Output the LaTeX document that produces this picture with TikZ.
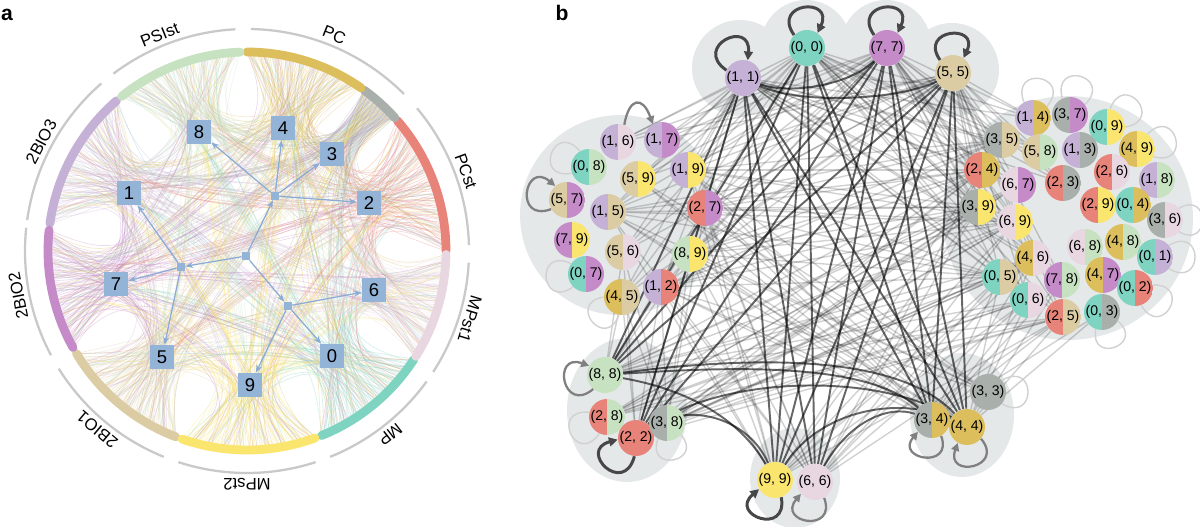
\documentclass[tikz,border=0pt]{standalone}
\usepackage{fontspec}
\setmainfont{Liberation Sans}
\usetikzlibrary{arrows.meta,calc}
\pgfdeclarelayer{bg}
\pgfdeclarelayer{mid}
\pgfsetlayers{bg,mid,main}
\definecolor{c0}{HTML}{7FD3C1}
\definecolor{c1}{HTML}{C6B1D6}
\definecolor{c2}{HTML}{E8837A}
\definecolor{c3}{HTML}{A9AFAB}
\definecolor{c4}{HTML}{DDBE5C}
\definecolor{c5}{HTML}{DCCCA4}
\definecolor{c6}{HTML}{E8D6E0}
\definecolor{c7}{HTML}{C58BC9}
\definecolor{c8}{HTML}{C7E2C1}
\definecolor{c9}{HTML}{FAE66E}
\definecolor{sqblue}{HTML}{93B3D7}
\definecolor{treeblue}{HTML}{8AACD4}
\definecolor{blobgray}{HTML}{E5E8E9}
\definecolor{ringgray}{HTML}{C9C9C9}
\tikzset{
 sq/.style={fill=sqblue, minimum size=0.48cm, inner sep=0pt, font=\fontsize{10.5}{12}\selectfont},
 tn/.style={fill=sqblue, minimum size=0.16cm, inner sep=0pt},
 tree/.style={draw=treeblue, line width=0.7pt, -{Stealth[length=4.5pt,width=3.5pt]}},
 ring/.style={draw=ringgray, line width=1.3pt},
 band/.style={line width=5pt, line cap=round},
 lab/.style={anchor=south, inner sep=1pt, font=\fontsize{9.5}{11}\selectfont},
 bun/.style={line width=0.4pt, draw opacity=0.3},
 hc/.style 2 args={circle, minimum size=0.72cm, inner sep=0pt, font=\fontsize{8}{9}\selectfont,
   path picture={\fill[#1] (path picture bounding box.south west) rectangle (path picture bounding box.north);
                 \fill[#2] (path picture bounding box.south) rectangle (path picture bounding box.north east);}},
 fc/.style={circle, fill=#1, minimum size=0.72cm, inner sep=0pt, font=\fontsize{8}{9}\selectfont},
 blob/.style={fill=blobgray},
 dk/.style={draw=black, draw opacity=0.6, line width=1.1pt},
 lt/.style={draw=black, draw opacity=0.18, line width=0.8pt},
 lpd/.style={draw=black!72, line width=1.7pt, -{Triangle[length=5pt,width=5pt]}},
 lpm/.style={draw=black!50, line width=1.3pt, -{Triangle[length=4.5pt,width=4.5pt]}},
 lpf/.style={draw=black!18, line width=0.8pt},
}
\newcommand\mkloop[4]{%
 \pgfmathtruncatemacro\lpa{#3+40}\pgfmathtruncatemacro\lpb{#3-40}%
 \draw[#1] (#2.\lpa) .. controls +({-(#3+30)}:#4) and +({-(#3-30)}:#4) .. (#2.\lpb);}
\begin{document}
\begin{tikzpicture}[x=0.02cm, y=-0.02cm]
\useasboundingbox (0,0) rectangle (1200,527);
% ---------------- panel a ----------------
\node[font=\bfseries\fontsize{12}{14}\selectfont] (la) at (7,15) {a};
\node[font=\bfseries\fontsize{12}{14}\selectfont] (lb) at (562,13) {b};
\node[sq] (sq0) at (332,356) {0};
\node[sq] (sq1) at (129,193) {1};
\node[sq] (sq2) at (369,203) {2};
\node[sq] (sq3) at (332,154) {3};
\node[sq] (sq4) at (283,128) {4};
\node[sq] (sq5) at (162,357) {5};
\node[sq] (sq6) at (374,290) {6};
\node[sq] (sq7) at (116,284) {7};
\node[sq] (sq8) at (199,132) {8};
\node[sq] (sq9) at (250,385) {9};
\node[tn] (tA) at (275,196) {};
\node[tn] (tB) at (246,256) {};
\node[tn] (tC) at (181,267) {};
\node[tn] (tD) at (288,306) {};
\draw[tree] (tB) -- (tA);
\draw[tree] (tB) -- (tC);
\draw[tree] (tB) -- (tD);
\draw[tree] (tA) -- (sq8);
\draw[tree] (tA) -- (sq4);
\draw[tree] (tA) -- (sq3);
\draw[tree] (tA) -- (sq2);
\draw[tree] (tC) -- (sq1);
\draw[tree] (tC) -- (sq7);
\draw[tree] (tC) -- (sq5);
\draw[tree] (tD) -- (sq6);
\draw[tree] (tD) -- (sq0);
\draw[tree] (tD) -- (sq9);
\begin{scope}[shift={(247,251)}]
 \foreach \a/\b in {93/127, 45/89, 1.5/40, -3/-33, -36/-68, -72/-108, -112/-148, -152/-186, 131/172}
   \draw[ring] (-\a:222) arc[start angle=-\a, end angle=-\b, radius=222];
 \node[lab, rotate=22] (lPSI) at (-112:225) {PSIst};
 \node[lab, rotate=-22] (lPC) at (-68:225) {PC};
 \node[lab, rotate=-70] (lPCst) at (-20:225) {PCst};
 \node[lab, rotate=-107] (lMPst1) at (17:225) {MPst1};
 \node[lab, rotate=-142] (lMP) at (52:225) {MP};
 \node[lab, rotate=-180] (lMPst2) at (90:225) {MPst2};
 \node[lab, rotate=140] (l2BIO1) at (-230:225) {2BIO1};
 \node[lab, rotate=101] (l2BIO2) at (-191:225) {2BIO2};
 \node[lab, rotate=62] (l2BIO3) at (-152:225) {2BIO3};
 \foreach \i/\s/\e in {0/292/327, 1/131/172, 2/0/41, 3/42/54, 4/55/90, 5/211/249, 6/328/359, 7/174/209, 8/92/129, 9/251/290}
   \draw[band, c\i] (-\s:199) arc[start angle=-\s, end angle=-\e, radius=199];
\end{scope}
\begin{pgfonlayer}{mid}
\begin{scope}[shift={(247,251)}]
\foreach \i in {0,...,9}{
 \pgfmathsetmacro\sa{{292,131,0,42,55,211,328,174,92,251}[\i]}
 \pgfmathsetmacro\ea{{327,172,41,54,90,249,359,209,129,290}[\i]}
 \pgfmathsetmacro\ma{(\sa+\ea)/2}
 \foreach \k in {0,...,69}{
   \pgfmathsetmacro\aa{\sa+(\ea-\sa)*(\k+0.5)/70}
   \pgfmathtruncatemacro\j{mod(\i+1+mod(\k*7,9),10)}
   \pgfmathsetmacro\sb{{292,131,0,42,55,211,328,174,92,251}[\j]}
   \pgfmathsetmacro\eb{{327,172,41,54,90,249,359,209,129,290}[\j]}
   \pgfmathsetmacro\mb{(\sb+\eb)/2+(mod(\k*5,7)-3)*1.8}
   \pgfmathsetmacro\mai{\ma+(mod(\k*11,9)-4)*1.4}
   \pgfmathsetmacro\ra{132+mod(\k*13,28)-14}
   \pgfmathsetmacro\rb{132+mod(\k*17,28)-14}
   \pgfmathsetmacro\bb{\sb+(\eb-\sb)*mod(\k*0.618+0.13*\i,1)}
   \draw[bun, c\i] (-\aa:196) .. controls ($(-\aa:196)!0.5!(-\mai:\ra)$) and (-\mai:\ra) .. ($(-\mai:\ra)!0.5!(-\mb:\rb)$)
        .. controls (-\mb:\rb) and ($(-\bb:196)!0.5!(-\mb:\rb)$) .. (-\bb:196);
 }
}
\end{scope}
\end{pgfonlayer}
% ---------------- panel b ----------------
\begin{pgfonlayer}{bg}
 \fill[blob] (740,68) circle[radius=0.96cm];
 \fill[blob] (806,45) circle[radius=0.9cm];
 \fill[blob] (886,45) circle[radius=0.9cm];
 \fill[blob] (952,70) circle[radius=0.94cm];
 \fill[blob] (620,215) circle[radius=2cm];
 \fill[blob] (1068,218) ellipse[x radius=2.5cm, y radius=2.44cm];
 \fill[blob] (627,410) ellipse[x radius=1.2cm, y radius=1.44cm];
 \fill[blob] (795,478) ellipse[x radius=0.9cm, y radius=1.0cm];
 \fill[blob] (962,415) ellipse[x radius=1.04cm, y radius=1.24cm];
\end{pgfonlayer}
\node[fc=c1] (n11) at (743,78) {(1, 1)};
\node[fc=c0] (n00) at (807,48) {(0, 0)};
\node[fc=c7] (n77) at (887,48) {(7, 7)};
\node[fc=c5] (n55) at (953,73) {(5, 5)};
\node[hc={c1}{c6}] (n16) at (618,142) {(1, 6)};
\node[hc={c1}{c7}] (n17) at (662,140) {(1, 7)};
\node[hc={c0}{c8}] (n08) at (589,167) {(0, 8)};
\node[hc={c5}{c9}] (n59) at (638,179) {(5, 9)};
\node[hc={c1}{c9}] (n19) at (688,170) {(1, 9)};
\node[hc={c5}{c7}] (n57) at (567,200) {(5, 7)};
\node[hc={c1}{c5}] (n15) at (608,212) {(1, 5)};
\node[hc={c2}{c7}] (n27) at (705,208) {(2, 7)};
\node[hc={c7}{c9}] (n79) at (572,240) {(7, 9)};
\node[hc={c5}{c6}] (n56) at (623,252) {(5, 6)};
\node[hc={c8}{c9}] (n89) at (690,254) {(8, 9)};
\node[hc={c0}{c7}] (n07) at (586,274) {(0, 7)};
\node[hc={c4}{c5}] (n45) at (622,297) {(4, 5)};
\node[hc={c1}{c2}] (n12) at (661,287) {(1, 2)};
\node[hc={c1}{c4}] (n14) at (1033,118) {(1, 4)};
\node[hc={c3}{c7}] (n37) at (1070,115) {(3, 7)};
\node[hc={c0}{c9}] (n09) at (1107,127) {(0, 9)};
\node[hc={c3}{c5}] (n35) at (1002,140) {(3, 5)};
\node[hc={c5}{c8}] (n58) at (1040,152) {(5, 8)};
\node[hc={c1}{c3}] (n13) at (1080,150) {(1, 3)};
\node[hc={c4}{c9}] (n49) at (1137,149) {(4, 9)};
\node[hc={c2}{c4}] (n24) at (982,170) {(2, 4)};
\node[hc={c6}{c7}] (n67) at (1018,185) {(6, 7)};
\node[hc={c2}{c3}] (n23) at (1063,183) {(2, 3)};
\node[hc={c2}{c6}] (n26) at (1112,172) {(2, 6)};
\node[hc={c1}{c8}] (n18) at (1157,180) {(1, 8)};
\node[hc={c3}{c9}] (n39) at (978,207) {(3, 9)};
\node[hc={c6}{c9}] (n69) at (1015,222) {(6, 9)};
\node[hc={c2}{c9}] (n29) at (1098,205) {(2, 9)};
\node[hc={c0}{c4}] (n04) at (1133,205) {(0, 4)};
\node[hc={c3}{c6}] (n36) at (1165,220) {(3, 6)};
\node[hc={c4}{c6}] (n46) at (1033,258) {(4, 6)};
\node[hc={c6}{c8}] (n68) at (1085,247) {(6, 8)};
\node[hc={c4}{c8}] (n48) at (1123,242) {(4, 8)};
\node[hc={c0}{c1}] (n01) at (1155,257) {(0, 1)};
\node[hc={c0}{c5}] (n05) at (1000,277) {(0, 5)};
\node[hc={c7}{c8}] (n78) at (1062,280) {(7, 8)};
\node[hc={c4}{c7}] (n47) at (1103,275) {(4, 7)};
\node[hc={c0}{c2}] (n02) at (1135,288) {(0, 2)};
\node[hc={c0}{c6}] (n06) at (1028,300) {(0, 6)};
\node[hc={c2}{c5}] (n25) at (1063,317) {(2, 5)};
\node[hc={c0}{c3}] (n03) at (1102,312) {(0, 3)};
\node[fc=c8] (n88) at (605,375) {(8, 8)};
\node[hc={c2}{c8}] (n28) at (607,417) {(2, 8)};
\node[fc=c2] (n22) at (636,438) {(2, 2)};
\node[hc={c3}{c8}] (n38) at (667,423) {(3, 8)};
\node[fc=c9] (n99) at (775,480) {(9, 9)};
\node[fc=c6] (n66) at (815,482) {(6, 6)};
\node[fc=c3] (n33) at (988,392) {(3, 3)};
\node[hc={c3}{c4}] (n34) at (932,420) {(3, 4)};
\node[fc=c4] (n44) at (967,427) {(4, 4)};
\begin{pgfonlayer}{mid}
\foreach \a in {n11,n00,n77,n55}{
  \foreach \b in {n88,n22,n99,n66,n44,n34} \draw[dk] (\a) -- (\b);
  \foreach \b in {n16,n17,n19,n59,n15,n27,n89,n12,n56,n45} \draw[lt] (\a) -- (\b);
  \foreach \b in {n35,n24,n39,n69,n67,n46,n05,n06,n25,n14,n58,n23,n78} \draw[lt] (\a) -- (\b);
}
\foreach \a in {n88,n22,n28,n38}{\foreach \b in {n24,n39,n69,n46,n05,n06,n25,n67} \draw[lt] (\a) -- (\b);}
\foreach \a in {n88,n22,n38}{\foreach \b in {n12,n45,n56,n89,n27} \draw[lt] (\a) -- (\b);}
\foreach \a in {n44,n34,n33}{\foreach \b in {n27,n89,n12,n19,n15,n59} \draw[lt] (\a) -- (\b);}
\foreach \a in {n44,n34}{\foreach \b in {n05,n06,n25,n46,n03,n78} \draw[lt] (\a) -- (\b);}
\foreach \a in {n99,n66}{\foreach \b in {n27,n89,n12,n19,n15,n24,n39,n69,n46,n05,n06,n25} \draw[lt] (\a) -- (\b);}
\foreach \a in {n27,n19,n89,n15,n12}{\foreach \b in {n24,n39,n69,n35,n05} \draw[lt] (\a) -- (\b);}
\draw[dk] (n88) .. controls (760,355) and (900,355) .. (n44);
\draw[dk] (n88) .. controls (750,365) and (870,365) .. (n34);
\draw[dk] (n22) .. controls (720,375) and (880,372) .. (n44);
\draw[dk] (n99) .. controls (820,410) and (900,395) .. (n44);
\draw[dk] (n99) .. controls (740,420) and (690,390) .. (n88);
\draw[dk] (n66) .. controls (850,420) and (890,405) .. (n34);
\draw[dk] (n22) .. controls (690,400) and (750,420) .. (n99);
\draw[dk] (n11) .. controls (800,105) and (900,100) .. (n55);
\draw[dk] (n11) .. controls (790,95) and (850,85) .. (n77);
\draw[lt] (n00) .. controls (850,85) and (920,85) .. (n55);
\draw[lpm] (n16.70) .. controls +(5,-28) and +(-10,-28) .. (n17.120);
\end{pgfonlayer}
% loops
\mkloop{lpd}{n11}{115}{42}
\mkloop{lpd}{n00}{95}{40}
\mkloop{lpd}{n77}{95}{40}
\mkloop{lpd}{n55}{95}{38}
\mkloop{lpm}{n88}{190}{40}
\mkloop{lpd}{n22}{225}{42}
\mkloop{lpd}{n99}{250}{40}
\mkloop{lpm}{n66}{260}{38}
\mkloop{lpm}{n34}{260}{36}
\mkloop{lpm}{n44}{280}{38}
\mkloop{lpm}{n57}{170}{40}
\begin{pgfonlayer}{mid}
\mkloop{lpf}{n08}{160}{40}
\mkloop{lpf}{n07}{185}{40}
\mkloop{lpf}{n45}{220}{38}
\mkloop{lpf}{n28}{205}{40}
\mkloop{lpf}{n38}{280}{36}
\mkloop{lpf}{n33}{0}{40}
\mkloop{lpf}{n14}{80}{40}
\mkloop{lpf}{n37}{75}{40}
\mkloop{lpf}{n09}{40}{40}
\mkloop{lpf}{n49}{15}{40}
\mkloop{lpf}{n36}{0}{36}
\mkloop{lpf}{n01}{0}{40}
\mkloop{lpf}{n02}{330}{40}
\mkloop{lpf}{n03}{290}{36}
\end{pgfonlayer}
\end{tikzpicture}
\end{document}
